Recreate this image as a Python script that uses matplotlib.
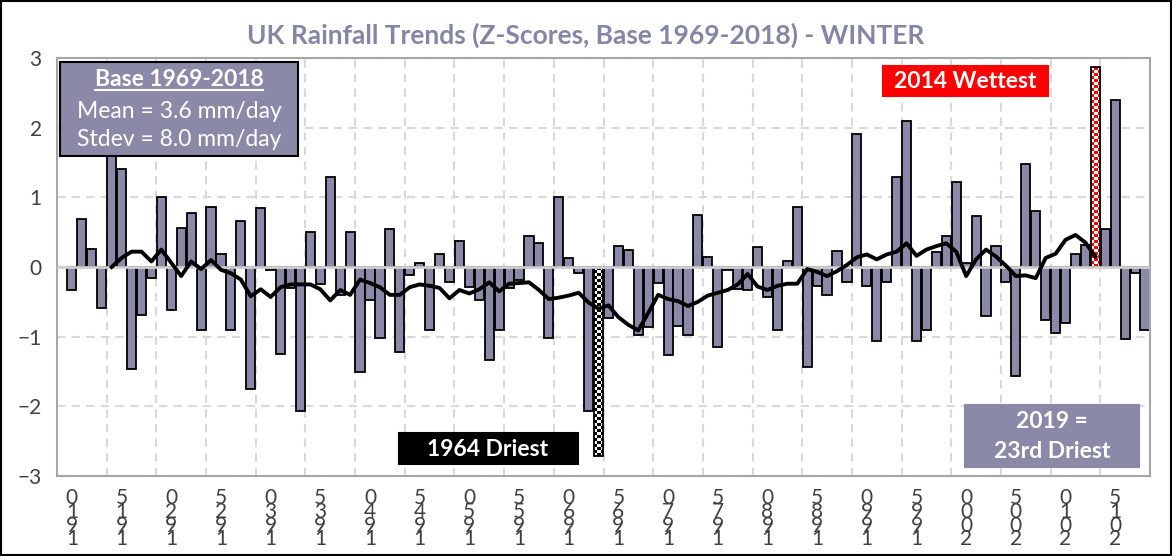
import numpy as np
import matplotlib
matplotlib.use('Agg')
import matplotlib.pyplot as plt
from matplotlib.colors import ListedColormap
from matplotlib.patches import Rectangle
from matplotlib.lines import Line2D

plt.rcParams['font.family'] = ['Lato', 'DejaVu Sans']

# winter z-scores, one bar per year label
years = np.arange(1910, 2019)
z_scores = [
    -0.33, 0.69, 0.26, -0.59, 1.75, 1.41, -1.47, -0.69, -0.16, 1.01,
    -0.62, 0.56, 0.77, -0.90, 0.86, 0.19, -0.90, 0.66, -1.75, 0.84,
    -0.04, -1.25, -0.30, -2.07, 0.50, -0.25, 1.29, -0.40, 0.50, -1.50,
    -0.47, -1.02, 0.54, -1.22, -0.11, 0.06, -0.91, 0.18, -0.22, 0.38,
    -0.28, -0.47, -1.34, -0.91, -0.30, -0.18, 0.45, 0.34, -1.02, 1.00,
    0.13, -0.08, -2.06, -2.71, -0.73, 0.30, 0.24, -0.97, -0.86, -0.23,
    -1.27, -0.84, -0.98, 0.74, 0.14, -1.15, -0.04, -0.31, -0.33, 0.28,
    -0.43, -0.90, 0.08, 0.86, -1.43, -0.27, -0.40, 0.23, -0.22, 1.91,
    -0.27, -1.06, -0.22, 1.29, 2.09, -1.06, -0.90, 0.21, 0.45, 1.22,
    0.06, 0.73, -0.70, 0.30, -0.22, -1.56, 1.48, 0.80, -0.76, -0.95,
    -0.80, 0.18, 0.31, 2.87, 0.54, 2.40, -1.03, -0.09, -0.91,
]

# smoothed trend line
ma_years = np.arange(1914, 2014)
ma_values = [
    0.00, 0.13, 0.22, 0.22, 0.08, 0.25, 0.06, -0.13, 0.08, -0.03,
    0.10, -0.04, -0.09, -0.18, -0.42, -0.32, -0.43, -0.29, -0.25, -0.25,
    -0.25, -0.32, -0.48, -0.33, -0.40, -0.18, -0.23, -0.29, -0.40, -0.40,
    -0.29, -0.25, -0.27, -0.30, -0.45, -0.33, -0.38, -0.32, -0.22, -0.35,
    -0.24, -0.23, -0.22, -0.33, -0.46, -0.44, -0.41, -0.37, -0.51, -0.60,
    -0.55, -0.72, -0.83, -0.91, -0.66, -0.40, -0.46, -0.49, -0.56, -0.50,
    -0.41, -0.37, -0.33, -0.25, -0.10, -0.28, -0.33, -0.27, -0.24, -0.24,
    -0.03, -0.07, -0.13, -0.06, 0.03, 0.14, 0.18, 0.11, 0.18, 0.22,
    0.34, 0.16, 0.25, 0.30, 0.34, 0.22, -0.13, 0.11, 0.25, 0.15,
    0.02, -0.13, -0.12, -0.16, 0.13, 0.19, 0.39, 0.46, 0.35, 0.15,
]

driest_year = 1963
wettest_year = 2013
label_years = np.arange(1910, 2016, 5)

bar_color = '#8b89a8'
grid_color = '#d9d9d9'
text_color = '#404040'
W, H = 1172, 556
bar_w = 0.92

fig = plt.figure(figsize=(W / 100, H / 100), dpi=100)
ax = fig.add_axes([57 / W, 1 - 476 / H, (1150 - 57) / W, (476 - 58) / H])
xlim = (years[0] - 1.5, years[-1] + 0.5)
ylim = (-3, 3)
ax.set_xlim(xlim)
ax.set_ylim(ylim)

normal = [(y, v) for y, v in zip(years, z_scores) if y not in (driest_year, wettest_year)]
ax.bar([p[0] for p in normal], [p[1] for p in normal], width=bar_w,
       color=bar_color, edgecolor='black', linewidth=1.3, zorder=2)


def checker_bar(year, color):
    h = z_scores[list(years).index(year)]
    x0, x1 = year - bar_w / 2, year + bar_w / 2
    y0, y1 = min(0, h), max(0, h)
    p0 = ax.transData.transform((x0, y0))
    p1 = ax.transData.transform((x1, y1))
    ncols = max(1, round(abs(p1[0] - p0[0]) / 3))
    nrows = max(1, round(abs(p1[1] - p0[1]) / 3))
    cells = np.add.outer(np.arange(nrows), np.arange(ncols)) % 2
    ax.imshow(cells, cmap=ListedColormap(['white', color]), extent=(x0, x1, y0, y1),
              aspect='auto', interpolation='nearest', origin='lower', zorder=2)
    ax.bar(year, h, width=bar_w, facecolor='none', edgecolor='black',
           linewidth=1.3, zorder=2.5)


checker_bar(driest_year, 'black')
checker_bar(wettest_year, '#ff0000')
ax.set_xlim(xlim)
ax.set_ylim(ylim)

ax.axhline(0, color='#d0d0d0', linewidth=2, zorder=3)
ax.plot(ma_years, ma_values, color='black', linewidth=2.8, zorder=4)

# grid
ax.set_yticks(range(-3, 4))
ax.set_xticks(label_years)
ax.set_xticklabels(['\n'.join(reversed(str(y))) for y in label_years])
ax.set_xticks(np.arange(years[0] + 3.5, years[-1], 5), minor=True)
ax.grid(axis='y', which='major', color=grid_color, linestyle=(0, (4, 3)), linewidth=1.5, zorder=0)
ax.grid(axis='x', which='minor', color=grid_color, linestyle=(0, (4, 3)), linewidth=1.5, zorder=0)
ax.set_axisbelow(True)
ax.tick_params(axis='both', which='both', length=0)
ax.tick_params(axis='y', labelsize=15, labelcolor=text_color, pad=11)
ax.tick_params(axis='x', labelsize=15, labelcolor=text_color, pad=9)
for t in ax.get_xticklabels():
    t.set_linespacing(0.6)
for s in ax.spines.values():
    s.set_color('#a6a6a6')
    s.set_linewidth(1.5)

fig.text(0.5, 1 - 35 / H, 'UK Rainfall Trends (Z-Scores, Base 1969-2018) - WINTER',
         ha='center', va='center', fontsize=19, fontweight='bold', color='#8585a5')


def px_box(x0, y0, x1, y1, face, edge):
    fig.add_artist(Rectangle((x0 / W, 1 - y1 / H), (x1 - x0) / W, (y1 - y0) / H,
                             transform=fig.transFigure, facecolor=face,
                             edgecolor=edge, linewidth=1.5, zorder=5))


def px_text(x, y, s, size=16.5, weight='bold'):
    return fig.text(x / W, 1 - y / H, s, ha='center', va='center', color='white',
                    fontsize=size, fontweight=weight, zorder=6)


px_box(60, 62, 298, 156, bar_color, 'black')
base_txt = px_text(179, 79, 'Base 1969-2018')
px_text(179, 111, 'Mean = 3.6 mm/day', weight='normal')
px_text(179, 139, 'Stdev = 8.0 mm/day', weight='normal')

px_box(883, 66, 1048, 96, '#ff0000', '#ff0000')
px_text(965, 81, '2014 Wettest')

px_box(399, 433, 578, 464, 'black', 'black')
px_text(488, 449, '1964 Driest')

px_box(965, 405, 1139, 467, bar_color, bar_color)
px_text(1052, 422, '2019 =')
px_text(1052, 452, '23rd Driest')

fig.canvas.draw()
bb = base_txt.get_window_extent()
fig.add_artist(Line2D([bb.x0 / W, bb.x1 / W], [(bb.y0 - 0.5) / H] * 2,
                      transform=fig.transFigure, color='white', linewidth=1.5, zorder=6))

fig.add_artist(Rectangle((0.001, 0.001), 0.998, 0.997, transform=fig.transFigure,
                         fill=False, edgecolor='black', linewidth=1.5))

fig.savefig('out.png', dpi=100)
